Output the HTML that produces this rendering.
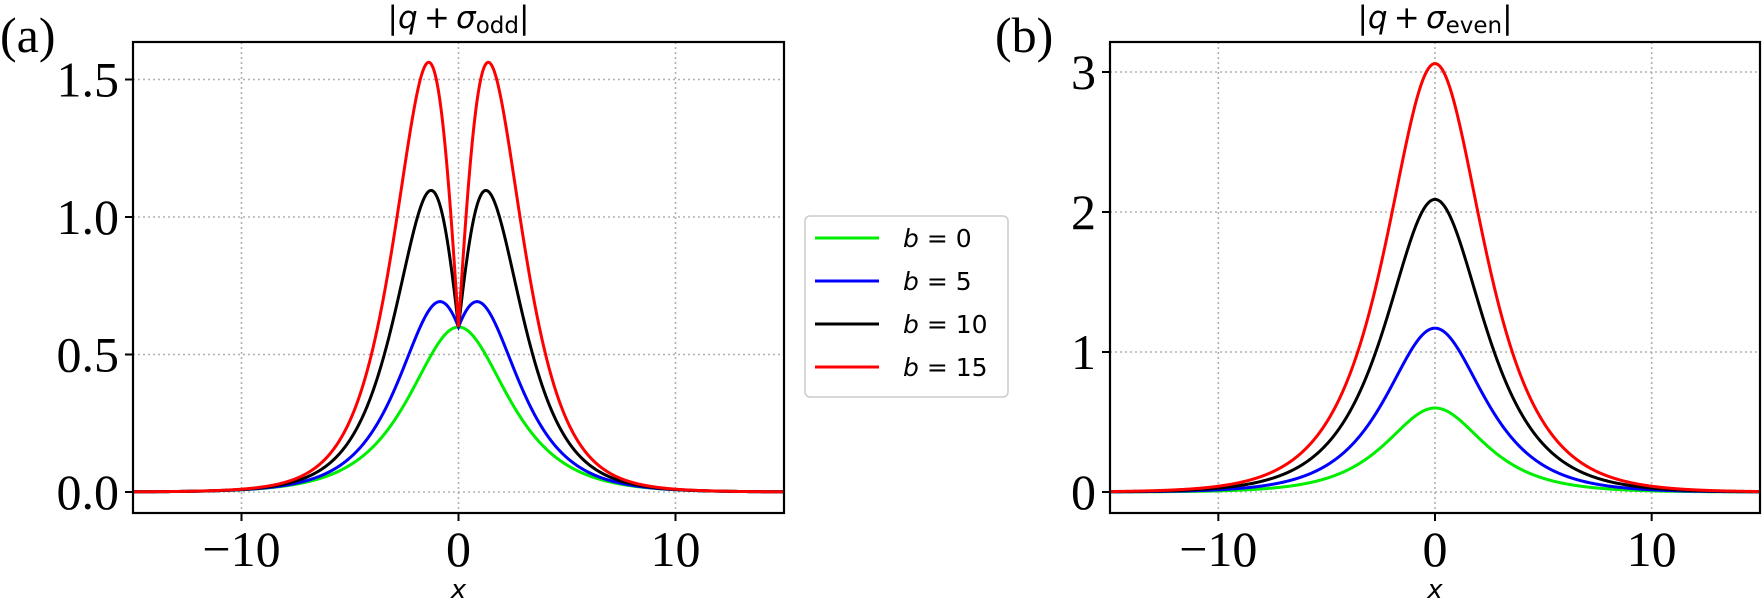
<!DOCTYPE html>
<html><head><meta charset="utf-8"><style>
html,body{margin:0;padding:0;background:#fff;}
svg{display:block;}
.tk{font-family:"Liberation Serif",serif;font-size:50px;fill:#000;}
.mt{font-family:"DejaVu Sans",sans-serif;fill:#000;}
</style></head><body>
<svg id="s" width="1764" height="607" xmlns="http://www.w3.org/2000/svg"></svg>
<script>
const S=document.getElementById('s');let h='';
function sech(u){return 2/(Math.exp(u)+Math.exp(-u));}
const cols=['#00ee00','#0000ff','#000000','#ff0000'];
function panel(L,R,T,B,y0,ppu,yt,ylab,fns,lab,sub){
  const cx=(L+R)/2,px=(R-L)/30;
  const X=x=>cx+x*px,Y=v=>y0-v*ppu;
  [-10,0,10].forEach(t=>{h+=`<line x1="${X(t)}" y1="${T}" x2="${X(t)}" y2="${B}" stroke="#b0b0b0" stroke-width="1.6" stroke-dasharray="2,3"/>`;});
  yt.forEach(t=>{h+=`<line x1="${L}" y1="${Y(t)}" x2="${R}" y2="${Y(t)}" stroke="#b0b0b0" stroke-width="1.6" stroke-dasharray="2,3"/>`;});
  fns.forEach((f,i)=>{let d='';for(let k=0;k<=1200;k++){const x=-15+30*k/1200;d+=(k?'L':'M')+X(x).toFixed(2)+','+Y(f(x)).toFixed(2);}
    h+=`<path d="${d}" fill="none" stroke="${cols[i]}" stroke-width="3"/>`;});
  h+=`<rect x="${L}" y="${T}" width="${R-L}" height="${B-T}" fill="none" stroke="#000" stroke-width="2.2"/>`;
  [-10,0,10].forEach(t=>{h+=`<line x1="${X(t)}" y1="${B}" x2="${X(t)}" y2="${B+8}" stroke="#000" stroke-width="2"/>`;
    h+=`<text class="tk" x="${X(t)}" y="${B+53}" text-anchor="middle">${t<0?'\u2212'+(-t):t}</text>`;});
  yt.forEach((t,i)=>{h+=`<line x1="${L-8}" y1="${Y(t)}" x2="${L}" y2="${Y(t)}" stroke="#000" stroke-width="2"/>`;
    h+=`<text class="tk" x="${L-14}" y="${Y(t)+17}" text-anchor="end">${ylab[i]}</text>`;});
  h+=`<text class="mt" x="${cx}" y="598" font-size="26" font-style="italic" text-anchor="middle">x</text>`;
  h+=`<text class="mt" x="${cx}" y="28" font-size="31" text-anchor="middle">|<tspan font-style="italic">q</tspan>\u2009+\u2009<tspan font-style="italic">σ</tspan><tspan font-size="23" dy="5">${sub}</tspan><tspan dy="-5">|</tspan></text>`;
}
const g=x=>0.6*sech(x/2);
const cs=[0,0.2,0.69,1.22];
panel(133,784,42,513,492,275,[0,0.5,1.0,1.5],['0.0','0.5','1.0','1.5'],
  cs.map(c=>x=>g(x)+c*Math.abs(x)*Math.pow(sech(x/2),2)),'(a)','odd');
const A=[0.6,1.17,2.09,3.06];
panel(1110,1760,42,513,492,140,[0,1,2,3],['0','1','2','3'],
  A.map(a=>x=>a*sech(x/2)),'(b)','even');
h+=`<text class="tk" x="0" y="52">(a)</text>`;
h+=`<text class="tk" x="995" y="52">(b)</text>`;
h+=`<rect x="805" y="216" width="203" height="181" rx="5" fill="#fff" stroke="#cccccc" stroke-width="1.5"/>`;
['0','5','10','15'].forEach((b,i)=>{const y=238+i*43;
  h+=`<line x1="815" y1="${y}" x2="879" y2="${y}" stroke="${cols[i]}" stroke-width="3"/>`;
  h+=`<text class="mt" x="903" y="${y+9}" font-size="25"><tspan font-style="italic">b</tspan> = ${b}</text>`;});
S.innerHTML=h;
</script>
</body></html>
